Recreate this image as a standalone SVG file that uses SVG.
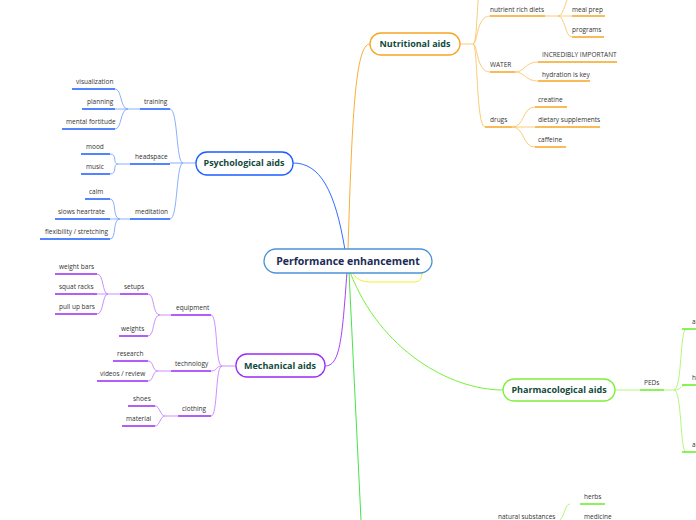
<svg xmlns="http://www.w3.org/2000/svg" width="696" height="520" viewBox="0 0 696 520">
<style>
text{font-family:"Open Sans","Noto Sans",sans-serif;font-size:6.5px;fill:#333}
.n{font-size:9px;font-weight:bold;fill:#124a3c;text-anchor:middle}
.c{font-size:10.5px;font-weight:bold;fill:#1b2a55;text-anchor:middle}
.bx{fill:#fff;stroke-width:1.3}
.u{fill:none;stroke-width:1.6}
.l{fill:none;stroke-width:0.9}
.o{stroke:#f5a623}.ol{stroke:#fbc56a}
.b{stroke:#1a5cff}.bl{stroke:#7ea6ff}
.p{stroke:#9b2bf5}.pl{stroke:#c583ff}
.g{stroke:#66ee22}.gl{stroke:#a8f56e}
</style>
<g id="connectors">
<path class="l o" stroke-width="1.2" d="M348 250 C352 120 355 44 370 44"/>
<path class="l b" stroke-width="1.3" d="M345 250 C335 190 320 163 293 163"/>
<path class="l p" stroke-width="1.3" d="M347 272 C342 340 340 366 325 366"/>
<path class="l g" stroke-width="1.1" d="M350 272 C380 350 450 390 503 390"/>
<path class="l" stroke="#33e033" stroke-width="1.5" d="M349 272 L361 520"/>
<path class="l" stroke="#e6f01a" stroke-width="1" d="M352 272 C358 282 365 282 375 282 L415 282 Q422 282 422 272"/>
<!-- nutritional -->
<path class="l ol" d="M460 44 H473 M473 44 C478 44 476 16 490 16 M473 44 C478 44 476 -10 482 -20 M473 44 C478 44 476 72 490 72 M473 44 C478 44 476 127 485 127"/>
<path class="u o" d="M490 16 H545 M490 72 H515 M485 127 H512"/>
<path class="l ol" d="M545 16 H558 M558 16 C565 16 565 -5 572 -5 M558 16 C565 16 565 16 572 16 M558 16 C565 16 565 37 572 37 M515 72 C525 72 525 62 538 62 M515 72 C525 72 525 81 538 81 M512 127 C525 127 522 107 535 107 M512 127 H535 M512 127 C525 127 522 147 535 147"/>
<path class="u o" d="M572 16 H605 M572 37 H604 M538 62 H617 M538 81 H590 M535 107 H567 M535 127 H600 M535 147 H566"/>
<!-- psychological -->
<path class="l bl" d="M196 163 H183 M183 163 C176 163 178 109 170 109 M183 163 H170 M183 163 C176 163 178 219 170 219"/>
<path class="u b" d="M140 109 H170 M130 164 H170 M130 219 H170"/>
<path class="l bl" d="M140 109 H128 M128 109 C120 109 122 89 115 89 M128 109 H115 M128 109 C120 109 122 129 115 129 M130 164 H118 C112 164 118 154 110 154 M118 164 C112 164 118 174 110 174 M130 219 H120 C112 219 117 199 110 199 M120 219 H110 M120 219 C112 219 117 239 110 239"/>
<path class="u b" d="M72 89 H115 M82 109 H115 M62 129 H115 M81 154 H110 M81 174 H110 M85 199 H110 M55 219 H110 M40 239 H110"/>
<!-- mechanical -->
<path class="l pl" d="M236 366 H222 M222 366 C215 366 218 315 211 315 M222 366 C215 366 218 371 211 371 M222 366 C215 366 218 416 211 416"/>
<path class="u p" d="M171 315 H211 M171 371 H211 M178 416 H211"/>
<path class="l pl" d="M171 315 H160 C152 315 155 294 148 294 M160 315 C152 315 155 336 148 336 M171 371 H158 C152 371 154 361 148 361 M158 371 C152 371 154 381 148 381 M178 416 H165 C160 416 160 406 155 406 M165 416 C160 416 160 426 155 426 M120 294 H108 C102 294 104 274 97 274 M108 294 H97 M108 294 C102 294 104 314 97 314"/>
<path class="u p" d="M120 294 H148 M119 336 H148 M113 361 H148 M97 381 H148 M128 406 H155 M122 426 H155 M55 274 H97 M55 294 H97 M55 314 H97"/>
<!-- pharmacological -->
<path class="l gl" d="M615 390 H640 M664 390 H674 M674 390 C682 390 680 329 686 329 M674 390 C682 390 680 385 686 385 M674 390 C682 390 680 452 686 452 M570 504 C565 504 565 515 560 520"/>
<path class="u g" d="M640 390 H664 M682 329 H696 M682 385 H696 M682 452 H696 M580 504 H605"/>
</g>
<g id="center"><rect class="bx" stroke="#4b93d6" x="264" y="249" width="168" height="24" rx="12"/><text class="c" x="348" y="265">Performance enhancement</text></g>
<g id="nutritional"><rect class="bx" stroke="#f5a623" x="370" y="33" width="90" height="22" rx="11"/><text class="n" x="415" y="47">Nutritional aids</text>
<text x="490" y="12">nutrient rich diets</text><text x="572" y="12">meal prep</text><text x="572" y="32">programs</text>
<text x="490" y="67">WATER</text><text x="542" y="57">INCREDIBLY IMPORTANT</text><text x="542" y="77">hydration is key</text>
<text x="490" y="122">drugs</text><text x="538" y="102">creatine</text><text x="538" y="122">dietary supplements</text><text x="538" y="142">caffeine</text></g>
<g id="psychological"><rect class="bx" stroke="#1a5cff" x="196" y="152" width="97" height="23" rx="11"/><text class="n" x="244" y="166">Psychological aids</text>
<text x="144" y="104">training</text><text x="76" y="84">visualization</text><text x="87" y="104">planning</text><text x="66" y="124">mental fortitude</text>
<text x="135" y="159">headspace</text><text x="86" y="149">mood</text><text x="86" y="169">music</text>
<text x="135" y="214">meditation</text><text x="89" y="194">calm</text><text x="58" y="214">slows heartrate</text><text x="45" y="234">flexibility / stretching</text></g>
<g id="mechanical"><rect class="bx" stroke="#9b2bf5" x="236" y="354" width="89" height="23" rx="11"/><text class="n" x="280" y="369">Mechanical aids</text>
<text x="176" y="310">equipment</text><text x="124" y="289">setups</text><text x="59" y="269">weight bars</text><text x="59" y="289">squat racks</text><text x="59" y="309">pull up bars</text><text x="121" y="331">weights</text>
<text x="175" y="366">technology</text><text x="117" y="356">research</text><text x="100" y="376">videos / review</text>
<text x="182" y="411">clothing</text><text x="133" y="401">shoes</text><text x="126" y="421">material</text></g>
<g id="pharmacological"><rect class="bx" stroke="#7eee3a" x="503" y="379" width="112" height="22" rx="11"/><text class="n" x="559" y="393">Pharmacological aids</text>
<text x="644" y="385">PEDs</text><text x="692" y="324">a</text><text x="692" y="380">h</text><text x="692" y="447">a</text>
<text x="498" y="519">natural substances</text><text x="584" y="499">herbs</text><text x="584" y="519">medicine</text></g>
</svg>
